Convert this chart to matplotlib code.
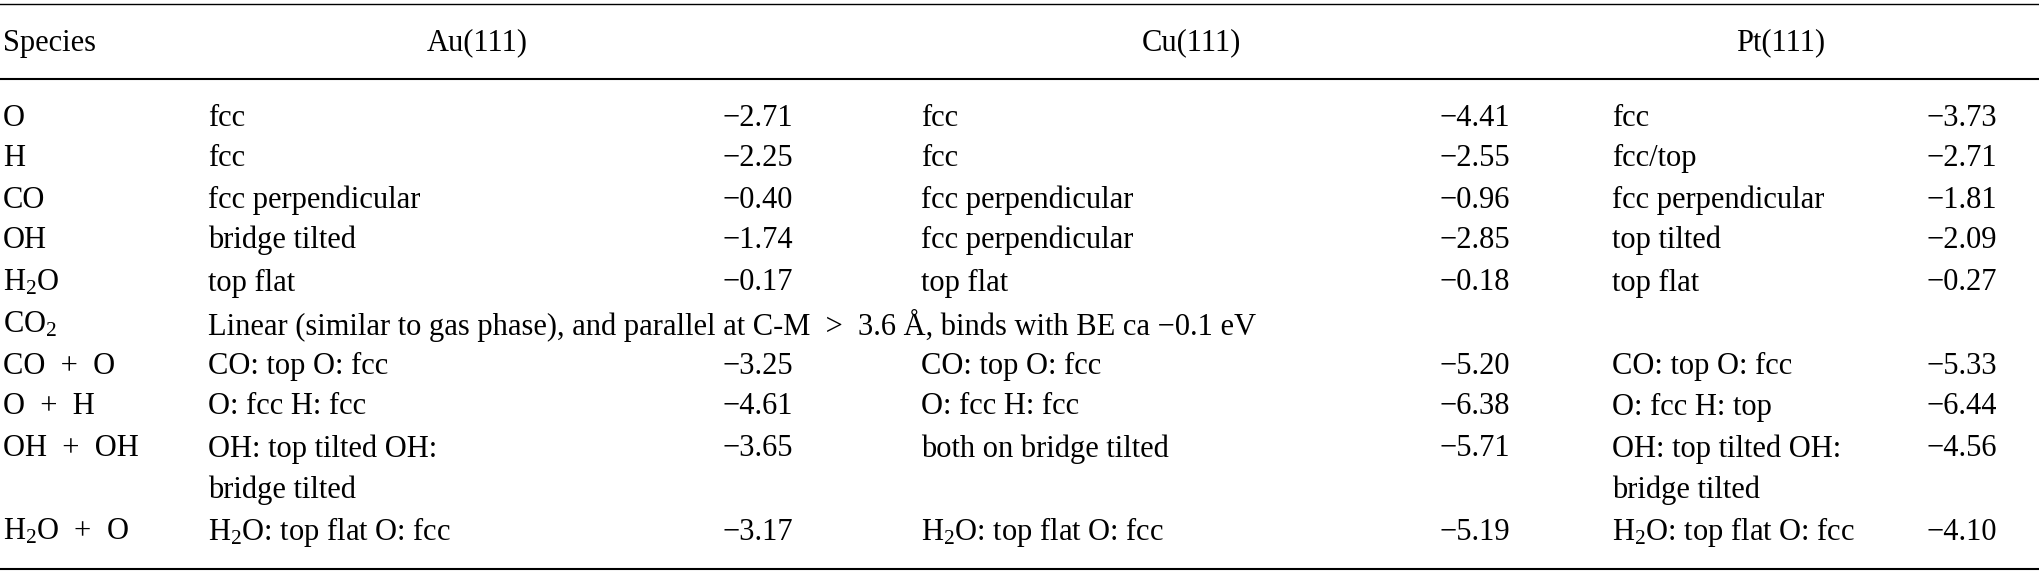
import matplotlib
matplotlib.use("Agg")
import matplotlib.pyplot as plt

plt.rcParams['font.family'] = ['Liberation Serif', 'DejaVu Serif']
plt.rcParams['mathtext.fontset'] = 'custom'
plt.rcParams['mathtext.rm'] = 'Liberation Serif'
plt.rcParams['mathtext.it'] = 'Liberation Serif:italic'

S = "\u2002+\u2002"
headers = ["Species", "Au(111)", "Cu(111)", "Pt(111)"]
species = ["O", "H", "CO", "OH", "H$_2$O", "CO$_2$", "CO" + S + "O", "O" + S + "H",
           "OH" + S + "OH", "H$_2$O" + S + "O"]
au_site = ["fcc", "fcc", "fcc perpendicular", "bridge tilted", "top flat", "",
           "CO: top O: fcc", "O: fcc H: fcc", "OH: top tilted OH:\nbridge tilted", "H$_2$O: top flat O: fcc"]
au_val = ["−2.71", "−2.25", "−0.40", "−1.74", "−0.17", "", "−3.25", "−4.61", "−3.65", "−3.17"]
cu_site = ["fcc", "fcc", "fcc perpendicular", "fcc perpendicular", "top flat", "",
           "CO: top O: fcc", "O: fcc H: fcc", "both on bridge tilted", "H$_2$O: top flat O: fcc"]
cu_val = ["−4.41", "−2.55", "−0.96", "−2.85", "−0.18", "", "−5.20", "−6.38", "−5.71", "−5.19"]
pt_site = ["fcc", "fcc/top", "fcc perpendicular", "top tilted", "top flat", "",
           "CO: top O: fcc", "O: fcc H: top", "OH: top tilted OH:\nbridge tilted", "H$_2$O: top flat O: fcc"]
pt_val = ["−3.73", "−2.71", "−1.81", "−2.09", "−0.27", "", "−5.33", "−6.44", "−4.56", "−4.10"]
co2_note = "Linear (similar to gas phase), and parallel at C-M\u2002>\u20023.6 Å, binds with BE ca −0.1 eV"

W, H = 2040, 575
fig = plt.figure(figsize=(W/100, H/100), dpi=100)
def fx(x): return x / W
def fy(y): return 1 - y / H
fs = 22

for y, lw in ((4, 1.0), (79, 1.5), (569, 1.5)):
    fig.add_artist(plt.Line2D([0, 1], [fy(y), fy(y)], color='black', lw=lw))

fig.text(fx(3), fy(43), headers[0], fontsize=fs, va='center', ha='left')
for h, cx in zip(headers[1:], (477, 1191, 1781)):
    fig.text(fx(cx), fy(43), h, fontsize=fs, va='center', ha='center')

row_y = [118, 158, 200, 240, 283, 325, 366, 407, 449, 532]
gap = 41
for i, y in enumerate(row_y):
    fig.text(fx(3), fy(y), species[i], fontsize=fs, va='center', ha='left')
    if species[i] == "CO$_2$":
        fig.text(fx(208), fy(y), co2_note, fontsize=fs, va='center', ha='left')
        continue
    for site, val, x0, xr in ((au_site[i], au_val[i], 208, 793),
                              (cu_site[i], cu_val[i], 921, 1510),
                              (pt_site[i], pt_val[i], 1612, 1997)):
        for k, ln in enumerate(site.split("\n")):
            fig.text(fx(x0), fy(y + gap*k), ln, fontsize=fs, va='center', ha='left')
        fig.text(fx(xr), fy(y), val, fontsize=fs, va='center', ha='right')

fig.savefig("out.png", dpi=100)
